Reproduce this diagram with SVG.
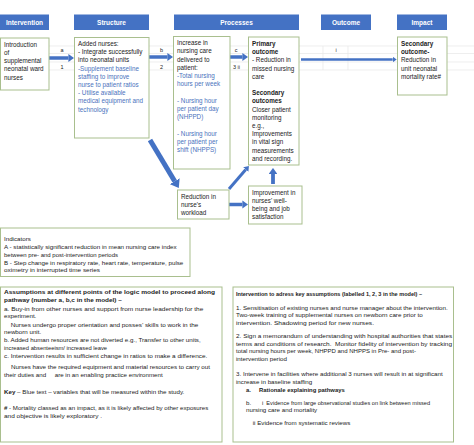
<svg xmlns="http://www.w3.org/2000/svg" width="474" height="445" viewBox="0 0 474 445">
<defs>
<style>
.hdr{fill:#4472C4}
.ht{font-family:"Liberation Sans",Arial,sans-serif;font-size:6.5px;font-weight:bold;fill:#fff;text-anchor:middle}
.box{fill:#fff;stroke:#A9BF8E;stroke-width:1}
.t{font-family:"Liberation Sans",Arial,sans-serif;font-size:6.3px;fill:#222}
.s{font-family:"Liberation Sans",Arial,sans-serif;font-size:6.2px;fill:#222}
.sb{font-family:"Liberation Sans",Arial,sans-serif;font-size:5.9px;font-weight:bold;fill:#222}
.b{font-weight:bold}
.bl{fill:#4A72BC}
.lbl{font-family:"Liberation Sans",Arial,sans-serif;font-size:5.5px;fill:#222;text-anchor:middle}
.grid{stroke:#E6E6E6;stroke-width:0.7;fill:none}
.arr{stroke:#4472C4;fill:none;marker-end:url(#ah)}
</style>
<marker id="ah" viewBox="0 0 7 10" refX="0" refY="5" markerWidth="1.6" markerHeight="2.3" orient="auto" markerUnits="strokeWidth">
<path d="M0,0 L7,5 L0,10 z" fill="#4472C4"/>
</marker>
</defs>
<rect width="474" height="445" fill="#fff"/>

<g id="grid">
<path class="grid" d="M49,46 H474 M49,53.5 H474 M49,62 H474 M49,70 H474 M323,46 V70 M348,46 V70"/>
</g>

<g id="headers">
<g id="h-intervention"><rect class="hdr" x="0" y="14.5" width="49" height="15.5"/><text class="ht" x="24.5" y="24.8">Intervention</text></g>
<g id="h-structure"><rect class="hdr" x="74" y="14.5" width="75" height="15.5"/><text class="ht" x="111.5" y="24.8">Structure</text></g>
<g id="h-processes"><rect class="hdr" x="174" y="14.5" width="125" height="15.5"/><text class="ht" x="236.5" y="24.8">Processes</text></g>
<g id="h-outcome"><rect class="hdr" x="321" y="14.5" width="50" height="15.5"/><text class="ht" x="346" y="24.8">Outcome</text></g>
<g id="h-impact"><rect class="hdr" x="397" y="14.5" width="50" height="15.5"/><text class="ht" x="422" y="24.8">Impact</text></g>
</g>

<g id="connectors">
<path class="arr" stroke-width="3.5" d="M49,58 L68.4,58"/>
<path class="arr" stroke-width="3.5" d="M149,57 L167.4,57"/>
<path class="arr" stroke-width="3.5" d="M230,57 L242.4,57"/>
<path class="arr" stroke-width="2.5" d="M301,59.5 L392.7,59.5"/>
<path class="arr" stroke-width="5" d="M150,140 L174.7,181.2"/>
<path class="arr" stroke-width="3" d="M229,189 L245.8,169.6"/>
<path class="arr" stroke-width="3.8" d="M273,184 L273,174"/>
<path class="arr" stroke-width="3.5" d="M229,204.5 L242.4,204.5"/>
<text class="lbl" x="62" y="52">a</text>
<text class="lbl" x="62" y="68.5">1</text>
<text class="lbl" x="161.5" y="52">b</text>
<text class="lbl" x="161.5" y="69">2</text>
<text class="lbl" x="236" y="52">c</text>
<text class="lbl" x="236.5" y="69">3 ii</text>
<text class="lbl" x="336" y="51.5">i</text>
</g>

<g id="n-intervention">
<rect class="box" x="0.5" y="38" width="48.5" height="52"/>
<text class="t" x="4" y="46.5"><tspan x="4">Introduction</tspan><tspan x="4" dy="8.25">of</tspan><tspan x="4" dy="8.25">supplemental</tspan><tspan x="4" dy="8.25">neonatal ward</tspan><tspan x="4" dy="8.25">nurses</tspan></text>
</g>

<g id="n-structure">
<rect class="box" x="74.5" y="37.5" width="74.5" height="100.5"/>
<text class="t" x="78" y="46"><tspan x="78">Added nurses:</tspan><tspan x="78" dy="8.2">- Integrate successfully</tspan><tspan x="78" dy="8.2">into neonatal units</tspan><tspan class="bl" x="78" dy="8.2">-Supplement baseline</tspan><tspan class="bl" x="78" dy="8.2">staffing to improve</tspan><tspan class="bl" x="78" dy="8.2">nurse to patient ratios</tspan><tspan class="bl" x="78" dy="8.2">- Utilise available</tspan><tspan class="bl" x="78" dy="8.2">medical equipment and</tspan><tspan class="bl" x="78" dy="8.2">technology</tspan></text>
</g>

<g id="n-processes">
<rect class="box" x="173.5" y="36.5" width="56.5" height="132.5"/>
<text class="t" x="177" y="45"><tspan x="177">Increase in</tspan><tspan x="177" dy="8.25">nursing care</tspan><tspan x="177" dy="8.25">delivered to</tspan><tspan x="177" dy="8.25">patient:</tspan><tspan class="bl" x="177" dy="8.25">-Total nursing</tspan><tspan class="bl" x="177" dy="8.25">hours per week</tspan><tspan class="bl" x="177" dy="16.5">- Nursing hour</tspan><tspan class="bl" x="177" dy="8.25">per patient day</tspan><tspan class="bl" x="177" dy="8.25">(NHPPD)</tspan><tspan class="bl" x="177" dy="16.5">- Nursing hour</tspan><tspan class="bl" x="177" dy="8.25">per patient per</tspan><tspan class="bl" x="177" dy="8.25">shift (NHPPS)</tspan></text>
</g>

<g id="n-primary">
<rect class="box" x="248.5" y="37" width="50.5" height="128"/>
<text class="t" x="252" y="46"><tspan class="b" x="252">Primary</tspan><tspan class="b" x="252" dy="8.2">outcome</tspan><tspan x="252" dy="8.2">- Reduction in</tspan><tspan x="252" dy="8.2">missed nursing</tspan><tspan x="252" dy="8.2">care</tspan><tspan class="b" x="252" dy="16.4">Secondary</tspan><tspan class="b" x="252" dy="8.2">outcomes</tspan><tspan x="252" dy="8.2">Closer patient</tspan><tspan x="252" dy="8.2">monitoring</tspan><tspan x="252" dy="8.2">e.g.,</tspan><tspan x="252" dy="8.2">Improvements</tspan><tspan x="252" dy="8.2">in vital sign</tspan><tspan x="252" dy="8.2">measurements</tspan><tspan x="252" dy="8.2">and recording.</tspan></text>
</g>

<g id="n-impact">
<rect class="box" x="397.5" y="37" width="49.5" height="58"/>
<text class="t" x="401" y="46"><tspan class="b" x="401">Secondary</tspan><tspan class="b" x="401" dy="8.2">outcome-</tspan><tspan x="401" dy="8.2">Reduction in</tspan><tspan x="401" dy="8.2">unit neonatal</tspan><tspan x="401" dy="8.2">mortality rate#</tspan></text>
</g>

<g id="n-workload">
<rect class="box" x="177.5" y="190" width="51.5" height="29"/>
<text class="t" x="181" y="199"><tspan x="181">Reduction in</tspan><tspan x="181" dy="8.2">nurse's</tspan><tspan x="181" dy="8.2">workload</tspan></text>
</g>

<g id="n-wellbeing">
<rect class="box" x="248.5" y="186" width="53.5" height="38"/>
<text class="t" x="252" y="194.5"><tspan x="252">Improvement in</tspan><tspan x="252" dy="8.2">nurses' well-</tspan><tspan x="252" dy="8.2">being and job</tspan><tspan x="252" dy="8.2">satisfaction</tspan></text>
</g>

<g id="n-indicators">
<rect class="box" x="0.5" y="228" width="189.5" height="48.5"/>
<text class="s" x="4" y="240.7">Indicators</text>
<text class="s" x="4" y="248.7" textLength="172.7" lengthAdjust="spacingAndGlyphs">A - statistically significant reduction in mean nursing care index</text>
<text class="s" x="4" y="256.7" textLength="114" lengthAdjust="spacingAndGlyphs">between pre- and post-intervention periods</text>
<text class="s" x="4" y="264.7" textLength="179.3" lengthAdjust="spacingAndGlyphs">B - Step change in respiratory rate, heart rate, temperature, pulse</text>
<text class="s" x="4" y="272.3" textLength="96" lengthAdjust="spacingAndGlyphs">oximetry in interrupted time series</text>
</g>

<g id="n-assumptions">
<rect class="box" x="0.5" y="287" width="221.5" height="155"/>
<text class="sb" x="4" y="294.3" textLength="211" lengthAdjust="spacingAndGlyphs">Assumptions at different points of the logic model to proceed along</text>
<text class="sb" x="4" y="302" textLength="117.7" lengthAdjust="spacingAndGlyphs">pathway (number a, b,c in the model) –</text>
<text class="s" x="4" y="310.7" textLength="199.3" lengthAdjust="spacingAndGlyphs">a. Buy-in from other nurses and support from nurse leadership for the</text>
<text class="s" x="4" y="318.3">experiment.</text>
<text class="s" x="10.7" y="327" textLength="187.6" lengthAdjust="spacingAndGlyphs">Nurses undergo proper orientation and posses’ skills to work in the</text>
<text class="s" x="4" y="334.3">newborn unit.</text>
<text class="s" x="4" y="342.3" textLength="196.7" lengthAdjust="spacingAndGlyphs">b. Added human resources are not diverted e.g., Transfer to other units,</text>
<text class="s" x="4" y="350" textLength="103" lengthAdjust="spacingAndGlyphs">increased absenteeism/ increased leave</text>
<text class="s" x="4" y="358" textLength="203.3" lengthAdjust="spacingAndGlyphs">c. Intervention results in sufficient change in ratios to make a difference.</text>
<text class="s" x="11" y="369.3" textLength="199" lengthAdjust="spacingAndGlyphs">Nurses have the required equipment and material resources to carry out</text>
<text class="s" x="4" y="377" textLength="158.7" lengthAdjust="spacingAndGlyphs" xml:space="preserve">their duties and     are in an enabling practice environment</text>
<text class="s" x="4" y="394.3" textLength="180.3" lengthAdjust="spacingAndGlyphs"><tspan class="b">Key</tspan> – Blue text – variables that will be measured within the study.</text>
<text class="s" x="4" y="410.3" textLength="204.3" lengthAdjust="spacingAndGlyphs"><tspan class="b">#</tspan> - Mortality classed as an impact, as it is likely affected by other exposures</text>
<text class="s" x="4" y="418" textLength="98" lengthAdjust="spacingAndGlyphs">and objective is likely exploratory .</text>
</g>

<g id="n-interventions">
<rect class="box" x="233" y="287" width="220.5" height="155"/>
<text class="sb" x="236" y="296" textLength="186" lengthAdjust="spacingAndGlyphs">Intervention to adress key assumptions (labelled 1, 2, 3 in the model) –</text>
<text class="s" x="236" y="309.7" textLength="211.7" lengthAdjust="spacingAndGlyphs">1. Sensitisation of existing nurses and nurse manager about the intervention.</text>
<text class="s" x="236" y="317" textLength="186.7" lengthAdjust="spacingAndGlyphs">Two-week training of supplemental nurses on newborn care prior to</text>
<text class="s" x="236" y="324.7" textLength="138" lengthAdjust="spacingAndGlyphs">intervention. Shadowing period for new nurses.</text>
<text class="s" x="236" y="338" textLength="216.2" lengthAdjust="spacingAndGlyphs">2. Sign a memorandum of understanding with hospital authorities that states</text>
<text class="s" x="236" y="345.7" textLength="216" lengthAdjust="spacingAndGlyphs" xml:space="preserve">terms and conditions of research.  Monitor fidelity of intervention by tracking</text>
<text class="s" x="236" y="353.3" textLength="180" lengthAdjust="spacingAndGlyphs">total nursing hours per week, NHPPD and NHPPS in Pre- and post-</text>
<text class="s" x="236" y="361">intervention period</text>
<text class="s" x="236" y="376.3" textLength="206.7" lengthAdjust="spacingAndGlyphs">3. Intervene in facilities where additional 3 nurses will result in at significant</text>
<text class="s" x="236" y="384">increase in baseline staffing</text>
<text class="sb" x="246" y="392">a.</text>
<text class="sb" x="259" y="392">Rationale explaining pathways</text>
<text class="s" x="246" y="404.7">b.</text>
<text class="s" x="262" y="404.7" textLength="168" lengthAdjust="spacingAndGlyphs" xml:space="preserve">i  Evidence from large observational studies on link between missed</text>
<text class="s" x="246" y="412.3">nursing care and mortality</text>
<text class="s" x="252.7" y="425.3">ii Evidence from systematic reviews</text>
</g>
</svg>
